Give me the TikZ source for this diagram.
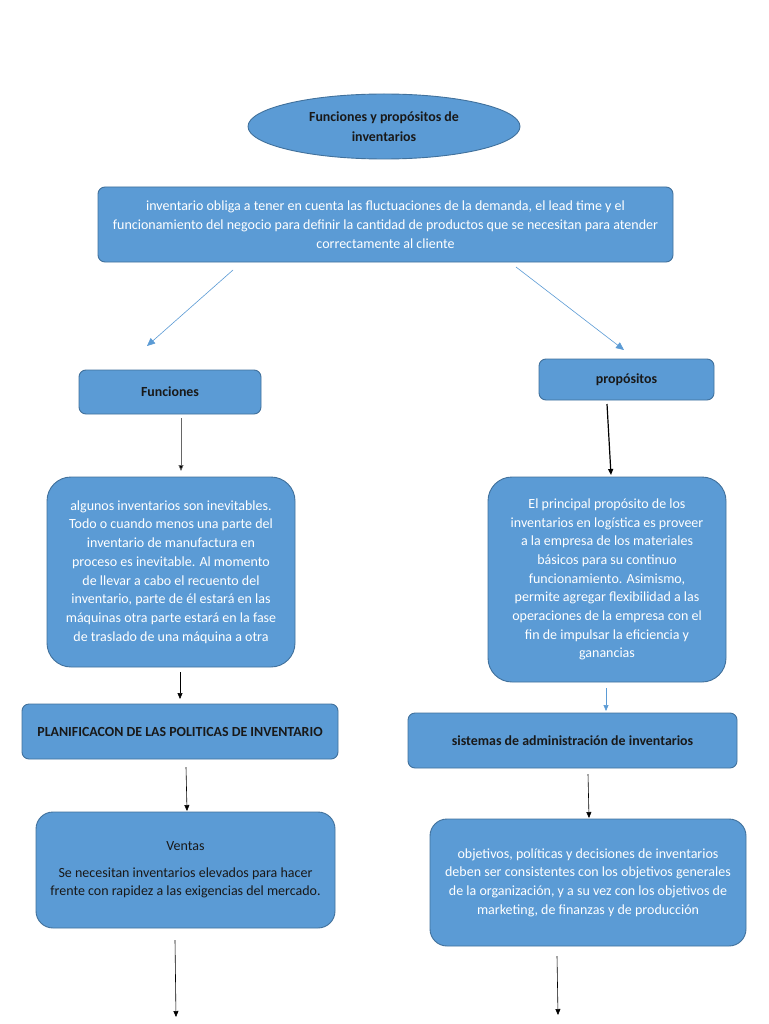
\documentclass[tikz,border=0pt]{standalone}
\usepackage{fontspec}
\setmainfont{Carlito}
\usetikzlibrary{shapes.geometric,arrows.meta}
\definecolor{boxfill}{HTML}{5B9BD5}
\definecolor{boxline}{HTML}{41719C}
\definecolor{lblue}{HTML}{5B9BD5}
\begin{document}
\begin{tikzpicture}[x=1pt,y=-1pt,
  base/.style={fill=boxfill,draw=boxline,line width=0.9pt,align=center,inner sep=0pt},
  rbox/.style={base,rectangle,rounded corners=7pt},
  bigbox/.style={base,rectangle,rounded corners=24pt},
  midbox/.style={base,rectangle,rounded corners=17pt},
  wtext/.style={text=white,font=\fontsize{14}{18.7}\selectfont},
  dtext/.style={text=black!90,font=\fontsize{13.9}{20}\selectfont\bfseries},
  barrow/.style={-{Triangle[length=6pt,width=5pt]},line width=0.6pt,draw=black},
  larrow/.style={-{Triangle[length=8pt,width=7pt]},line width=0.6pt,draw=lblue},
]
\useasboundingbox (0,0) rectangle (768,1024);
\fill[white] (0,0) rectangle (768,1024);

% title ellipse
\node[base,ellipse,minimum width=272pt,minimum height=65pt,dtext] (title) at (384,126.5)
  {Funciones y propósitos de\\inventarios};

% top box
\node[rbox,minimum width=575pt,minimum height=75pt,wtext] (top) at (385.5,224.5)
  {inventario obliga a tener en cuenta las fluctuaciones de la demanda, el lead time y el\\
   funcionamiento del negocio para definir la cantidad de productos que se necesitan para atender\\
   correctamente al cliente};

% Funciones / propositos
\node[rbox,minimum width=182pt,minimum height=44pt,dtext] (fun) at (170,392) {Funciones};
\node[rbox,minimum width=175pt,minimum height=41pt,dtext] (pro) at (626.5,379.5) {propósitos};

% big boxes
\node[bigbox,minimum width=248pt,minimum height=190pt,wtext] (alg) at (171,572)
  {algunos inventarios son inevitables.\\
   Todo o cuando menos una parte del\\
   inventario de manufactura en\\
   proceso es inevitable. Al momento\\
   de llevar a cabo el recuento del\\
   inventario, parte de él estará en las\\
   máquinas otra parte estará en la fase\\
   de traslado de una máquina a otra};
\node[bigbox,minimum width=238pt,minimum height=205pt,wtext] (pri) at (607,579.5)
  {El principal propósito de los\\
   inventarios en logística es proveer\\
   a la empresa de los materiales\\
   básicos para su continuo\\
   funcionamiento. Asimismo,\\
   permite agregar flexibilidad a las\\
   operaciones de la empresa con el\\
   fin de impulsar la eficiencia y\\
   ganancias};

% planificacion / sistemas
\node[rbox,minimum width=316pt,minimum height=55pt,dtext] (pla) at (180,731.5)
  {PLANIFICACON DE LAS POLITICAS DE INVENTARIO};
\node[rbox,minimum width=329pt,minimum height=55pt,dtext] (sis) at (572.5,740.5)
  {sistemas de administración de inventarios};

% ventas / objetivos
\node[midbox,minimum width=299pt,minimum height=116pt,text=black!90,font=\fontsize{14}{18.7}\selectfont] (ven) at (185.5,870)
  {Ventas\\[8pt]
   Se necesitan inventarios elevados para hacer\\
   frente con rapidez a las exigencias del mercado.};
\node[midbox,minimum width=316pt,minimum height=127pt,wtext] (obj) at (588,882.5)
  {objetivos, políticas y decisiones de inventarios\\
   deben ser consistentes con los objetivos generales\\
   de la organización, y a su vez con los objetivos de\\
   marketing, de finanzas y de producción};

% free connector ends
\coordinate (a1s) at (233,270); \coordinate (a1e) at (147,346);
\coordinate (a2s) at (516,267); \coordinate (a2e) at (624,350);
\coordinate (a3s) at (181,418); \coordinate (a3e) at (181,471);
\coordinate (a4s) at (607,404); \coordinate (a4e) at (611,475);
\coordinate (a5s) at (180,672); \coordinate (a5e) at (180,699);
\coordinate (a6s) at (606,688); \coordinate (a6e) at (606,711);
\coordinate (a7s) at (186,767); \coordinate (a7e) at (187,811);
\coordinate (a8s) at (588,774); \coordinate (a8e) at (589,818);
\coordinate (a9s) at (175,940); \coordinate (a9e) at (176,1017);
\coordinate (a10s) at (557,956); \coordinate (a10e) at (558,1015);

\draw[larrow] (a1s) -- (a1e);
\draw[larrow] (a2s) -- (a2e);
\draw[barrow,draw=black!60,-{Triangle[length=6pt,width=5pt,fill=black]}] (a3s) -- (a3e);
\draw[barrow,line width=1.2pt] (a4s) -- (a4e);
\draw[barrow] (a5s) -- (a5e);
\draw[larrow,-{Triangle[length=6pt,width=5pt]}] (a6s) -- (a6e);
\draw[barrow] (a7s) -- (a7e);
\draw[barrow] (a8s) -- (a8e);
\draw[barrow] (a9s) -- (a9e);
\draw[barrow] (a10s) -- (a10e);
\end{tikzpicture}
\end{document}
